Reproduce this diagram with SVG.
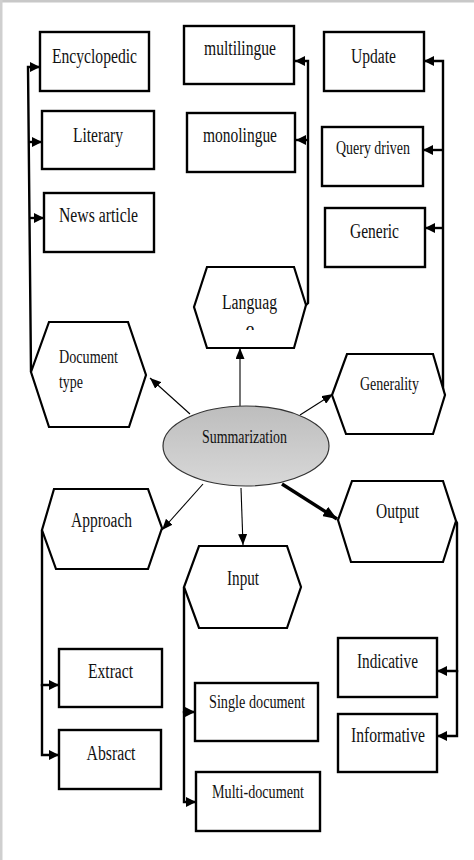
<svg xmlns="http://www.w3.org/2000/svg" width="474" height="860" viewBox="0 0 474 860">
<style>
.box{fill:#fff;stroke:#000;stroke-width:2.4}
.hex{fill:#fff;stroke:#000;stroke-width:2.2;stroke-linejoin:miter}
.t{font-family:"Liberation Serif","Times New Roman",serif;font-size:20px;fill:#111;text-anchor:middle}
.s{font-size:19px}
.br{fill:none;stroke:#000;stroke-width:2.4}
.sp{fill:none;stroke:#000;stroke-width:1.1}
</style>
<defs>
<marker id="ah" markerUnits="userSpaceOnUse" markerWidth="10" markerHeight="10" refX="10" refY="5" orient="auto"><path d="M0,0 L10,5 L0,10 z" fill="#000"/></marker>
<marker id="as" markerUnits="userSpaceOnUse" markerWidth="11" markerHeight="9" refX="11" refY="4.5" orient="auto"><path d="M0,0 L11,4.5 L0,9 z" fill="#000"/></marker>
<marker id="al" markerUnits="userSpaceOnUse" markerWidth="14" markerHeight="11" refX="14" refY="5.5" orient="auto"><path d="M0,0 L14,5.5 L0,11 z" fill="#000"/></marker>
<linearGradient id="g" x1="0" y1="0" x2="0" y2="1"><stop offset="0" stop-color="#bdbdbd"/><stop offset="1" stop-color="#d8d8d8"/></linearGradient>
<clipPath id="clipLang"><rect x="195" y="268" width="110" height="62"/></clipPath>
</defs>
<rect x="0" y="0" width="474" height="2.5" fill="#c8c8c8"/>
<rect x="0" y="0" width="2.5" height="860" fill="#cfcfcf"/>

<g id="connectors">
<polyline class="br" points="31,372 28,67 40,67" marker-end="url(#ah)"/>
<line class="br" x1="28.5" y1="142" x2="42" y2="142" marker-end="url(#ah)"/>
<line class="br" x1="29" y1="218" x2="44" y2="218" marker-end="url(#ah)"/>
<polyline class="br" points="306,305 308,303 308,61 295,61" marker-end="url(#ah)"/>
<line class="br" x1="308" y1="140" x2="296" y2="140" marker-end="url(#ah)"/>
<polyline class="br" points="445,395 443,393 443,61 424,61" marker-end="url(#ah)"/>
<line class="br" x1="443" y1="150" x2="423" y2="150" marker-end="url(#ah)"/>
<line class="br" x1="443" y1="228" x2="425" y2="228" marker-end="url(#ah)"/>
<polyline class="br" points="42,530 42,685 59,685" marker-end="url(#ah)"/>
<polyline class="br" points="42,684 42,755 59,755" marker-end="url(#ah)"/>
<polyline class="br" points="184,587 184,712 195,712" marker-end="url(#ah)"/>
<polyline class="br" points="184,711 184,802 196,802" marker-end="url(#ah)"/>
<polyline class="br" points="456,521 457,523 457,671 437,671" marker-end="url(#ah)"/>
<polyline class="br" points="457,670 457,736 437,736" marker-end="url(#ah)"/>
<line class="sp" x1="240" y1="406" x2="240" y2="348" marker-end="url(#as)"/>
<line class="sp" x1="190" y1="414" x2="150" y2="378" marker-end="url(#as)"/>
<line class="sp" x1="300" y1="415" x2="333" y2="394" marker-end="url(#as)"/>
<line class="sp" x1="203" y1="484" x2="162" y2="530" marker-end="url(#as)"/>
<line class="sp" x1="241" y1="488" x2="243" y2="545" marker-end="url(#as)"/>
<line x1="282" y1="484" x2="337" y2="519" stroke="#000" stroke-width="3.4" marker-end="url(#al)"/>
</g>

<g id="encyclopedic"><rect class="box" x="40" y="32" width="109" height="59"/><text class="t" x="94.5" y="63" textLength="85" lengthAdjust="spacingAndGlyphs">Encyclopedic</text></g>
<g id="literary"><rect class="box" x="42" y="111" width="112" height="58"/><text class="t" x="98" y="142" textLength="50" lengthAdjust="spacingAndGlyphs">Literary</text></g>
<g id="news-article"><rect class="box" x="44" y="193" width="110" height="59"/><text class="t" x="98.5" y="222" textLength="79" lengthAdjust="spacingAndGlyphs">News article</text></g>
<g id="multilingue"><rect class="box" x="184" y="26" width="110" height="58"/><text class="t" x="240" y="55" textLength="72" lengthAdjust="spacingAndGlyphs">multilingue</text></g>
<g id="monolingue"><rect class="box" x="187" y="113" width="108" height="59"/><text class="t" x="240" y="142" textLength="74" lengthAdjust="spacingAndGlyphs">monolingue</text></g>
<g id="update"><rect class="box" x="324" y="32" width="100" height="59"/><text class="t" x="373.5" y="63" textLength="45" lengthAdjust="spacingAndGlyphs">Update</text></g>
<g id="query-driven"><rect class="box" x="322" y="127" width="101" height="59"/><text class="t s" x="373" y="154" textLength="74" lengthAdjust="spacingAndGlyphs">Query driven</text></g>
<g id="generic"><rect class="box" x="325" y="208" width="100" height="59"/><text class="t" x="374.5" y="238" textLength="49" lengthAdjust="spacingAndGlyphs">Generic</text></g>

<g id="language"><polygon class="hex" points="207,267 294,267 306,305 294,348 207,348 194,307"/><text class="t" x="249.5" y="309" textLength="55" lengthAdjust="spacingAndGlyphs">Languag</text><text class="t" x="250" y="336" clip-path="url(#clipLang)">e</text></g>
<g id="document-type"><polygon class="hex" points="49,322 128,322 146,375 129,427 49,427 31,372"/><text class="t s" x="88.5" y="363" textLength="59" lengthAdjust="spacingAndGlyphs">Document</text><text class="t s" x="71" y="388" textLength="24" lengthAdjust="spacingAndGlyphs">type</text></g>
<g id="generality"><polygon class="hex" points="347,354 433,354 445,395 433,434 346,434 332,395"/><text class="t s" x="389.5" y="390" textLength="59" lengthAdjust="spacingAndGlyphs">Generality</text></g>
<g id="summarization"><ellipse cx="246" cy="446" rx="83" ry="40" fill="url(#g)" stroke="#333" stroke-width="1.2"/><text class="t s" x="244.5" y="443" textLength="85" lengthAdjust="spacingAndGlyphs">Summarization</text></g>
<g id="approach"><polygon class="hex" points="54,489 148,489 162,528 148,569 56,569 42,530"/><text class="t" x="101.5" y="527" textLength="61" lengthAdjust="spacingAndGlyphs">Approach</text></g>
<g id="output"><polygon class="hex" points="352,481 443,481 456,521 443,562 351,562 338,520"/><text class="t" x="397.5" y="518" textLength="43" lengthAdjust="spacingAndGlyphs">Output</text></g>
<g id="input"><polygon class="hex" points="199,546 287,546 301,587 287,628 199,628 184,587"/><text class="t" x="243" y="585" textLength="32" lengthAdjust="spacingAndGlyphs">Input</text></g>
<g id="extract"><rect class="box" x="59" y="649" width="103" height="58"/><text class="t" x="110.5" y="678" textLength="45" lengthAdjust="spacingAndGlyphs">Extract</text></g>
<g id="absract"><rect class="box" x="59" y="730" width="102" height="59"/><text class="t" x="111" y="760" textLength="49" lengthAdjust="spacingAndGlyphs">Absract</text></g>
<g id="single-document"><rect class="box" x="195" y="683" width="123" height="58"/><text class="t s" x="257" y="708" textLength="96" lengthAdjust="spacingAndGlyphs">Single document</text></g>
<g id="multi-document"><rect class="box" x="196" y="772" width="124" height="59"/><text class="t s" x="258" y="798" textLength="92" lengthAdjust="spacingAndGlyphs">Multi-document</text></g>
<g id="indicative"><rect class="box" x="338" y="638" width="99" height="59"/><text class="t" x="387.5" y="668" textLength="61" lengthAdjust="spacingAndGlyphs">Indicative</text></g>
<g id="informative"><rect class="box" x="338" y="714" width="99" height="58"/><text class="t" x="388" y="742" textLength="74" lengthAdjust="spacingAndGlyphs">Informative</text></g>
</svg>
